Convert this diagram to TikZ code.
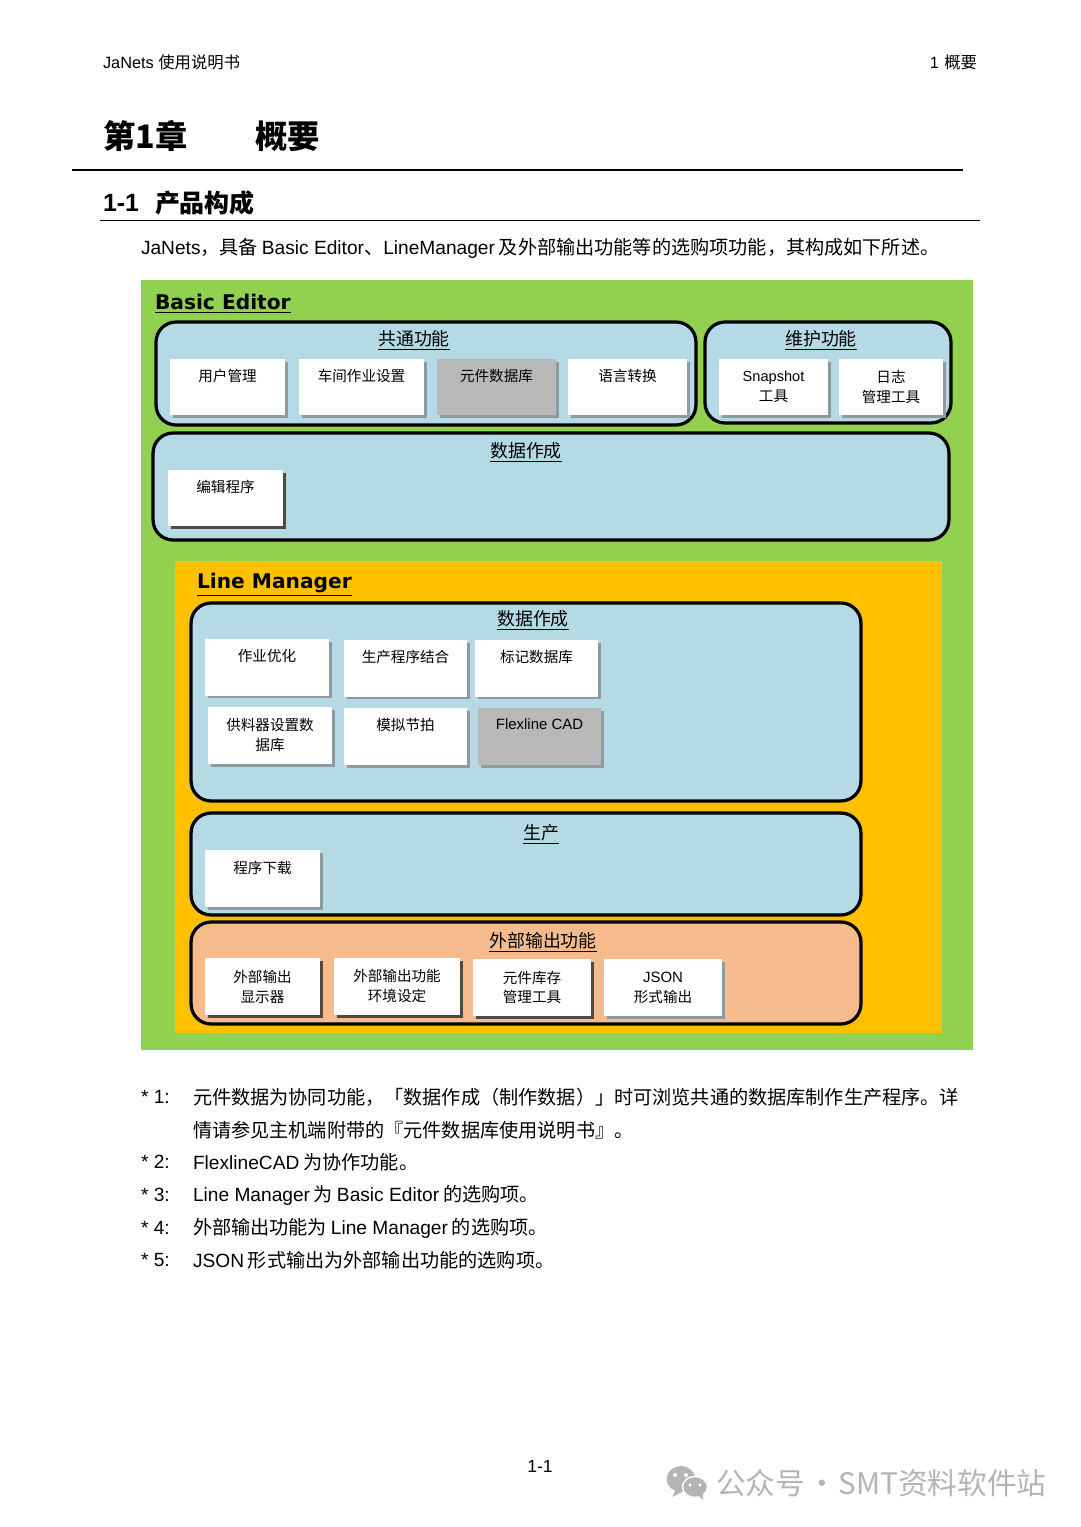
\documentclass[tikz,border=0pt]{standalone}
\usepackage{xcolor}
\usepackage{fontspec}
\setmainfont{Liberation Sans}
\newfontfamily\cjk{Noto Sans CJK SC}
\newfontfamily\lat{Liberation Sans}
\newfontfamily\dv{DejaVu Sans}
\newcommand{\zh}[1]{{\cjk #1}}
\newcommand{\gap}{\hspace{2.2pt}}
\newcommand{\topline}[1]{\raisebox{1.1pt}{#1}\\\vphantom{管具}}
\usepackage{tikz}
\usetikzlibrary{shapes,shadows}
\definecolor{basegreen}{HTML}{92D050}
\definecolor{lineorange}{HTML}{FFC000}
\definecolor{groupblue}{HTML}{B5DAE6}
\definecolor{grouppeach}{HTML}{F6BB8C}
\definecolor{boxgray}{HTML}{B8B8B8}
\definecolor{shadelight}{HTML}{8E9A9E}
\definecolor{shadedark}{HTML}{4E4A44}
\definecolor{markgray}{HTML}{B4B4B4}

\begin{document}
\begin{tikzpicture}[x=0.02cm,y=-0.02cm]
    \useasboundingbox (0,0) rectangle (1080,1527);
    \tikzstyle{plain}=[inner sep=0pt, outer sep=0pt, anchor=west, align=left]
    \tikzstyle{pagetext}=[plain, font=\fontsize{9.3}{11}\selectfont]
    \tikzstyle{bodytext}=[plain, font=\fontsize{10.9}{18.6}\selectfont]
    \tikzstyle{editionname}=[plain, font=\dv\bfseries\fontsize{11.5}{14}\selectfont]
    \tikzstyle{grouptitle}=[inner sep=0pt, font=\cjk\fontsize{10.2}{12}\selectfont]
    \tikzstyle{groupbox}=[rectangle, draw=black, line width=0.065cm, rounded corners=0.4cm,
    fill=groupblue]
    \tikzstyle{funcbox}=[rectangle, fill=white, align=center, inner sep=0pt, minimum height=1.14cm,
    font=\cjk\fontsize{8.3}{11.3}\selectfont,
    general shadow={fill=shadelight, shadow xshift=0.06cm, shadow yshift=-0.06cm}]
    \tikzstyle{funcdark}=[funcbox,
    general shadow={fill=shadedark, shadow xshift=0.06cm, shadow yshift=-0.06cm}]
    \tikzstyle{funcgray}=[funcbox, fill=boxgray]

    \node[pagetext](headleft) at (103,62){JaNets \zh{使用说明书}};
    \node[pagetext, anchor=east](headright) at (977,62){1\,\,\zh{概要}};
    \node[plain, font=\cjk\bfseries\fontsize{18.4}{20}\selectfont](chapnum) at (103,136){第1章};
    \node[plain, font=\cjk\bfseries\fontsize{18.4}{20}\selectfont](chapname) at (255,136){概要};
    \coordinate (chapa) at (72,170);
    \coordinate (chapb) at (963,170);
    \draw[line width=0.04cm] (chapa) -- (chapb);
    \node[plain, font=\bfseries\fontsize{14.2}{16}\selectfont](secname) at (103,203){1-1};
    \node[plain, font=\cjk\bfseries\fontsize{14.2}{16}\selectfont](secword) at (155,203){产品构成};
    \coordinate (seca) at (100,220.5);
    \coordinate (secb) at (980,220.5);
    \draw[line width=0.02cm] (seca) -- (secb);
    \node[bodytext](intro) at (141,248){JaNets\zh{，具备}\gap Basic Editor\zh{、}LineManager\gap\zh{及外部输出功能等的选购项功能，其构成如下所述。}};

    \node[rectangle, fill=basegreen, minimum width=16.64cm,
    minimum height=15.4cm, inner sep=0pt](basic) at (557,665){};
    \node[editionname](basictitle) at (155,303.5){\underline{Basic Editor}};

    \node[groupbox, minimum width=10.8cm, minimum height=2.06cm](common) at (426,373.5){};
    \node[grouptitle](commontitle) at (414,340){\underline{共通功能}};
    \node[funcbox, minimum width=2.3cm](user) at (227.5,387){\topline{用户管理}};
    \node[funcbox, minimum width=2.5cm](shop) at (361.5,387){\topline{车间作业设置}};
    \node[funcgray, minimum width=2.38cm](parts) at (496.5,387){\topline{元件数据库}};
    \node[funcbox, minimum width=2.38cm](lang) at (627.5,387){\topline{语言转换}};

    \node[groupbox, minimum width=4.92cm, minimum height=2.02cm](maint) at (828,372.5){};
    \node[grouptitle](mainttitle) at (821,340){\underline{维护功能}};
    \node[funcbox, minimum width=2.18cm](snap) at (773.5,387){{\lat Snapshot}\\工具};
    \node[funcbox, minimum width=2.08cm](logs) at (891,387){日志\\管理工具};

    \node[groupbox, minimum width=15.92cm, minimum height=2.14cm](data) at (551,486.5){};
    \node[grouptitle](datatitle) at (526,452){\underline{数据作成}};
    \node[funcdark, minimum width=2.3cm](edit) at (225.5,498){\topline{编辑程序}};

    \node[rectangle, fill=lineorange, minimum width=15.34cm,
    minimum height=9.44cm, inner sep=0pt](line) at (558.5,797){};
    \node[editionname](linetitle) at (197,585){\underline{Line Manager}};

    \node[groupbox, minimum width=13.4cm, minimum height=3.96cm](linedata) at (526,702){};
    \node[grouptitle](linedatatitle) at (533,620){\underline{数据作成}};
    \node[funcbox, minimum width=2.48cm](optim) at (267,667){\topline{作业优化}};
    \node[funcbox, minimum width=2.46cm](merge) at (405.5,668){\topline{生产程序结合}};
    \node[funcbox, minimum width=2.46cm](mark) at (536.5,668){\topline{标记数据库}};
    \node[funcbox, minimum width=2.48cm](feeder) at (270,735){供料器设置数\\据库};
    \node[funcbox, minimum width=2.46cm](takt) at (405.5,736){\topline{模拟节拍}};
    \node[funcgray, minimum width=2.46cm](cad) at (539.5,736){\topline{\lat\fontsize{8.5}{11.3}\selectfont Flexline CAD}};

    \node[groupbox, minimum width=13.4cm, minimum height=2.04cm](prod) at (526,864){};
    \node[grouptitle](prodtitle) at (541,834){\underline{生产}};
    \node[funcbox, minimum width=2.3cm](load) at (262.5,878.5){\topline{程序下载}};

    \node[groupbox, fill=grouppeach, minimum width=13.4cm, minimum height=2.04cm](output) at (526,973){};
    \node[grouptitle](outputtitle) at (543,942){\underline{外部输出功能}};
    \node[funcdark, minimum width=2.3cm](show) at (262.5,986.5){外部输出\\显示器};
    \node[funcdark, minimum width=2.52cm](setting) at (397,986){外部输出功能\\环境设定};
    \node[funcdark, minimum width=2.36cm](stock) at (532,987.5){元件库存\\管理工具};
    \node[funcbox, minimum width=2.36cm](json) at (663,987.5){{\lat\fontsize{8.5}{11.3}\selectfont JSON}\\形式输出};

    \node[bodytext](notea) at (141,1097){* 1:};
    \node[bodytext, anchor=north west](noteatext) at (193,1088){\zh{元件数据为协同功能，「数据作成（制作数据）」时可浏览共通的数据库制作生产程序。详}\\\zh{情请参见主机端附带的『元件数据库使用说明书』。}};
    \node[bodytext](noteb) at (141,1162){* 2:};
    \node[bodytext](notebtext) at (193,1162){FlexlineCAD\gap\zh{为协作功能。}};
    \node[bodytext](notec) at (141,1195){* 3:};
    \node[bodytext](notectext) at (193,1195){Line Manager\gap\zh{为}\gap Basic Editor\gap\zh{的选购项。}};
    \node[bodytext](noted) at (141,1228){* 4:};
    \node[bodytext](notedtext) at (193,1228){\zh{外部输出功能为}\gap Line Manager\gap\zh{的选购项。}};
    \node[bodytext](notee) at (141,1260){* 5:};
    \node[bodytext](noteetext) at (193,1260){JSON\gap\zh{形式输出为外部输出功能的选购项。}};

    \node[pagetext, anchor=center, font=\fontsize{10}{12}\selectfont](pagenum) at (540,1466){1-1};

    \filldraw[markgray] (681,1479) ellipse (14 and 12.5);
    \filldraw[markgray] (677,1488) -- (673,1496) -- (685,1490) -- cycle;
    \filldraw[markgray, draw=white, line width=0.03cm] (695,1487) ellipse (12.5 and 10.5);
    \filldraw[markgray] (698,1495) -- (703,1499) -- (702,1492) -- cycle;
    \fill[white] (675,1475) circle (2);
    \fill[white] (686,1475) circle (2);
    \fill[white] (690,1485) circle (1.6);
    \fill[white] (700,1485) circle (1.6);
    \node[plain, text=markgray, font=\cjk\fontsize{16.9}{18}\selectfont](markname) at (716,1483){公众号\kern-2.4pt\ ·\ \kern-3pt SMT资料软件站};
\end{tikzpicture}
\end{document}
